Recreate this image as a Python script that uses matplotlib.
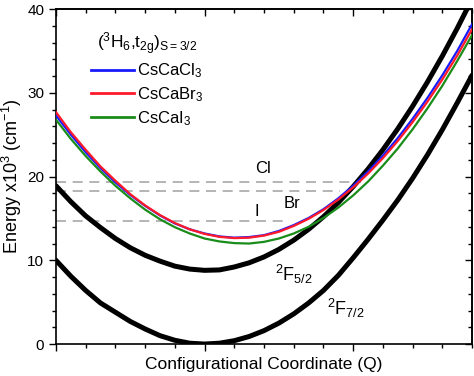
import matplotlib
matplotlib.use("Agg")
import matplotlib.pyplot as plt
from matplotlib.ticker import MultipleLocator, NullFormatter

plt.rcParams['font.family'] = ['Liberation Sans', 'DejaVu Sans']
plt.rcParams['mathtext.fontset'] = 'custom'
plt.rcParams['mathtext.rm'] = 'Liberation Sans'
plt.rcParams['mathtext.it'] = 'Liberation Sans:italic'
plt.rcParams['mathtext.bf'] = 'Liberation Sans:bold'

# Configurational coordinate (arbitrary units)
q = [0.0, 0.1, 0.2, 0.3, 0.4, 0.5, 0.6, 0.7, 0.8, 0.9, 1.0, 1.1, 1.2, 1.3, 1.4,
     1.5, 1.6, 1.7, 1.8, 1.9, 2.0, 2.1, 2.2, 2.3, 2.4, 2.5, 2.6, 2.7, 2.8]

f72 = [10.0, 8.1, 6.4, 4.9, 3.8, 2.7, 1.8, 1.0, 0.45, 0.1, 0.0, 0.1, 0.4, 0.9, 1.6,
       2.5, 3.6, 4.9, 6.4, 8.2, 10.3, 12.5, 14.8, 17.2, 19.8, 22.6, 25.6, 28.8, 32.1]

f52 = [18.9, 17.0, 15.3, 13.9, 12.6, 11.5, 10.6, 9.9, 9.3, 8.95, 8.8, 8.85, 9.2, 9.7, 10.4,
       11.3, 12.4, 13.7, 15.2, 16.9, 18.8, 20.9, 23.2, 25.7, 28.4, 31.3, 34.4, 37.7, 41.2]

cl = [27.3, 25.0, 22.9, 21.0, 19.3, 17.8, 16.5, 15.35, 14.4, 13.7, 13.2, 12.85, 12.7, 12.77, 13.0,
      13.5, 14.2, 15.05, 16.1, 17.4, 18.9, 20.6, 22.5, 24.6, 26.9, 29.4, 32.1, 35.0, 38.2]

br = [27.7, 25.3, 23.2, 21.2, 19.5, 17.9, 16.55, 15.4, 14.45, 13.7, 13.15, 12.8, 12.65, 12.7, 12.95,
      13.4, 14.1, 14.95, 16.0, 17.25, 18.7, 20.35, 22.2, 24.25, 26.5, 28.95, 31.6, 34.45, 37.6]

i3 = [26.8, 24.5, 22.45, 20.6, 18.9, 17.4, 16.05, 14.9, 13.95, 13.2, 12.6, 12.25, 12.05, 12.0, 12.2,
      12.6, 13.2, 14.0, 15.05, 16.3, 17.75, 19.4, 21.3, 23.35, 25.65, 28.15, 30.85, 33.8, 36.9]

series_names = ['CsCaCl$_3$', 'CsCaBr$_3$', 'CsCaI$_3$']
series_colors = ['#1a1aff', '#ff1a2a', '#1a8c1a']

# horizontal reference levels: (label, energy, end coordinate)
level_names = ['Cl', 'Br', 'I']
level_energy = [19.3, 18.3, 14.7]
level_end = [2.05, 1.91, 1.56]

fig = plt.figure(figsize=(4.74, 3.76), dpi=100)
ax = fig.add_axes([0.118, 0.085, 0.878, 0.891])

for e, xe in zip(level_energy, level_end):
    ax.plot([0, xe], [e, e], color='#a8a8a8', lw=1.2, dashes=(6, 4), zorder=1)

ax.plot(q, f72, color='black', lw=3.6, solid_capstyle='round', zorder=3)
ax.plot(q, f52, color='black', lw=3.6, solid_capstyle='round', zorder=3)

h_cl, = ax.plot(q, cl, color=series_colors[0], lw=1.6, zorder=4)
h_br, = ax.plot(q, br, color=series_colors[1], lw=1.6, zorder=4)
h_i, = ax.plot(q, i3, color=series_colors[2], lw=1.6, zorder=4)

leg = ax.legend([h_cl, h_br, h_i], series_names,
                title=r'($^3$H$_6$,t$_{\mathrm{2g}}$)$_{\mathrm{S{=}3/2}}$',
                loc='upper left', bbox_to_anchor=(0.06, 0.965), frameon=False,
                fontsize=12, title_fontsize=12.5, handlelength=2.6,
                handletextpad=0.15, labelspacing=0.3, borderaxespad=0.2)
leg._legend_box.sep = 3
for lh in leg.get_lines():
    lh.set_linewidth(2.0)

ax.text(1.39, 20.9, 'Cl', fontsize=12, ha='center', va='center')
ax.text(1.59, 16.8, 'Br', fontsize=12, ha='center', va='center')
ax.text(1.35, 15.8, 'I', fontsize=12, ha='center', va='center')
ax.text(1.60, 8.3, r'$^2$F$_{5/2}$', fontsize=13, ha='center', va='center')
ax.text(1.95, 4.2, r'$^2$F$_{7/2}$', fontsize=13, ha='center', va='center')

ax.set_xlim(0, 2.8)
ax.set_ylim(0, 40)
ax.xaxis.set_major_locator(MultipleLocator(1.0))
ax.xaxis.set_minor_locator(MultipleLocator(0.2))
ax.yaxis.set_major_locator(MultipleLocator(10))
ax.yaxis.set_minor_locator(MultipleLocator(2))
ax.xaxis.set_major_formatter(NullFormatter())
ax.tick_params(axis='both', which='major', direction='out', length=5, width=1.0,
               labelsize=11, top=False, right=False)
ax.tick_params(axis='both', which='minor', direction='out', length=3, width=1.0,
               top=False, right=False)

# inward ticks on the top and right edges
secx = ax.secondary_xaxis('top')
secx.xaxis.set_major_locator(MultipleLocator(1.0))
secx.xaxis.set_minor_locator(MultipleLocator(0.2))
secx.xaxis.set_major_formatter(NullFormatter())
secx.tick_params(which='major', direction='in', length=5, width=1.0)
secx.tick_params(which='minor', direction='in', length=3, width=1.0)
secy = ax.secondary_yaxis('right')
secy.yaxis.set_major_locator(MultipleLocator(10))
secy.yaxis.set_minor_locator(MultipleLocator(2))
secy.yaxis.set_major_formatter(NullFormatter())
secy.tick_params(which='major', direction='in', length=5, width=1.0)
secy.tick_params(which='minor', direction='in', length=3, width=1.0)
for sp in list(ax.spines.values()) + [secx.spines['top'], secy.spines['right']]:
    sp.set_linewidth(1.2)

ax.set_xlabel('Configurational Coordinate (Q)', fontsize=12.5, labelpad=1)
ax.set_ylabel(r'Energy x10$^3$ (cm$^{-1}$)', fontsize=13, labelpad=2)

fig.savefig('out.png', dpi=100)
